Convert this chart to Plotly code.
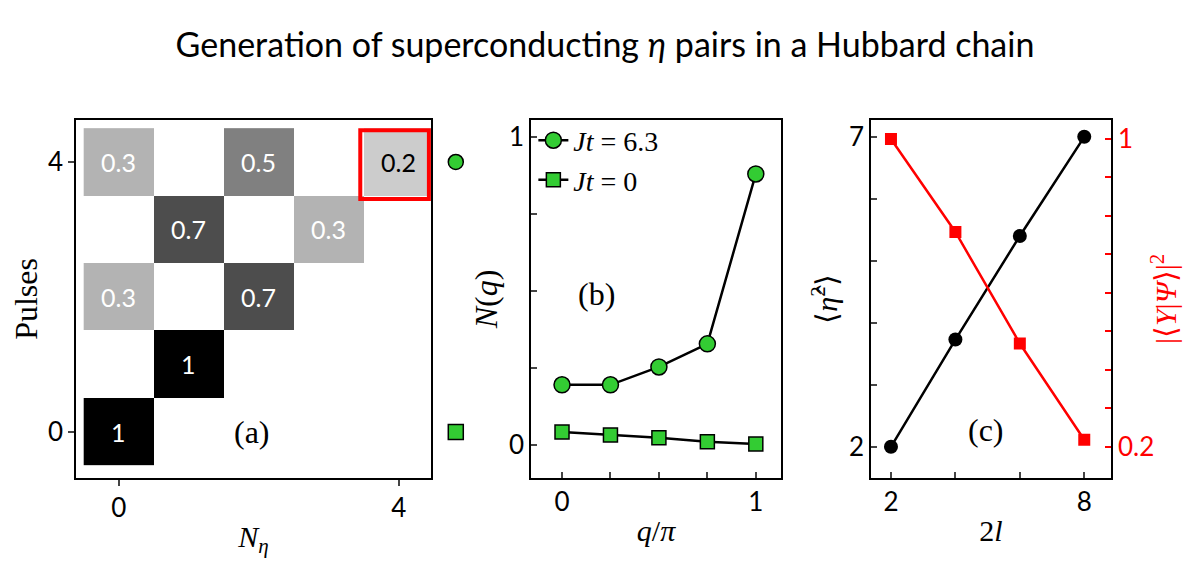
import plotly.graph_objects as go

# panel (a): pulses vs N_eta occupation
n_eta = [0, 1, 2, 3, 4]
pulses = [0, 1, 2, 3, 4]
occ = [
    [1, None, None, None, None],
    [None, 1, None, None, None],
    [0.3, None, 0.7, None, None],
    [None, 0.7, None, 0.3, None],
    [0.3, None, 0.5, None, 0.2],
]
side_x = [4.81, 4.81]
side_pulses = [4, 0]
side_symbols = ['circle', 'square']

# panel (b)
q = [0, 0.25, 0.5, 0.75, 1]
n_q_63 = [0.195, 0.195, 0.253, 0.328, 0.88]
n_q_0 = [0.042, 0.032, 0.023, 0.01, 0.003]

# panel (c)
two_l = [2, 4, 6, 8]
eta2 = [2, 3.73, 5.4, 7]
overlap = [1, 0.758, 0.468, 0.218]

green = '#33cc33'
font = 'Lato, sans-serif'
serif = 'Liberation Serif, serif'
W = 1194.0
dx = -7  # pixel shift


def px(a, b):
    return [(a + dx) / W, (b + dx) / W]


fig = go.Figure()

fig.add_trace(go.Heatmap(
    x=n_eta, y=pulses, z=occ, zmin=0, zmax=1,
    colorscale=[[0, 'white'], [1, 'black']], showscale=False,
    xaxis='x', yaxis='y', hoverongaps=False,
))
# markers to the right of panel (a), on a wider hidden axis
fig.add_trace(go.Scatter(
    x=side_x, y=side_pulses, mode='markers',
    marker=dict(symbol=side_symbols, size=15, color=green,
                line=dict(color='black', width=1.5)),
    showlegend=False, xaxis='x5', yaxis='y5',
))
for i, row in enumerate(occ):
    for j, v in enumerate(row):
        if v is not None:
            fig.add_annotation(
                x=n_eta[j], y=pulses[i], text=str(v), showarrow=False,
                font=dict(family=font, size=25,
                          color='black' if v < 0.25 else 'white'),
                xref='x', yref='y')
fig.add_shape(type='rect', x0=3.45, x1=4.43, y0=3.45, y1=4.47,
              xref='x', yref='y', line=dict(color='red', width=4))

fig.add_trace(go.Scatter(
    x=q, y=n_q_63, mode='lines+markers', name='<i>Jt</i> = 6.3',
    line=dict(color='black', width=2.5),
    marker=dict(symbol='circle', size=16, color=green,
                line=dict(color='black', width=1.5)),
    xaxis='x2', yaxis='y2',
))
fig.add_trace(go.Scatter(
    x=q, y=n_q_0, mode='lines+markers', name='<i>Jt</i> = 0',
    line=dict(color='black', width=2.5),
    marker=dict(symbol='square', size=14, color=green,
                line=dict(color='black', width=1.5)),
    xaxis='x2', yaxis='y2',
))

fig.add_trace(go.Scatter(
    x=two_l, y=eta2, mode='lines+markers', showlegend=False,
    line=dict(color='black', width=2.5),
    marker=dict(symbol='circle', size=14, color='black'),
    xaxis='x3', yaxis='y3',
))
fig.add_trace(go.Scatter(
    x=two_l, y=overlap, mode='lines+markers', showlegend=False,
    line=dict(color='red', width=2.5),
    marker=dict(symbol='square', size=12, color='red'),
    xaxis='x3', yaxis='y4',
))

ax = dict(showline=True, linecolor='black', linewidth=1.5, mirror=True,
          ticks='inside', ticklen=6, tickwidth=1.5, showgrid=False,
          zeroline=False, tickfont=dict(family=font, size=26, color='black'))
ytop, ybot = 0.802, 0.17

fig.update_layout(
    width=1194, height=566, plot_bgcolor='rgba(0,0,0,0)', paper_bgcolor='white',
    margin=dict(l=0, r=0, t=0, b=0),
    font=dict(color='black'),
    title=dict(text='Generation of superconducting <i>η</i> pairs in a Hubbard chain',
               x=0.5, y=0.955, xanchor='center',
               font=dict(family=font, size=34, color='black')),
    xaxis=dict(ax, domain=px(75, 430), range=[-0.61, 4.46], anchor='y',
               tickvals=[0, 4], ticks='outside',
               title=dict(text='<i>N</i><sub><i>η</i></sub>', standoff=4,
                          font=dict(family=serif, size=30))),
    yaxis=dict(ax, domain=[ybot, ytop], range=[-0.68, 4.62], anchor='x',
               tickvals=[0, 4], ticks='outside',
               title=dict(text='Pulses', standoff=4,
                          font=dict(family=serif, size=32))),
    xaxis5=dict(domain=px(75, 480), range=[-0.614, 5.17], visible=False,
                anchor='y5'),
    yaxis5=dict(domain=[ybot, ytop], range=[-0.68, 4.62], visible=False,
                anchor='x5'),
    xaxis2=dict(ax, domain=px(530, 780), range=[-0.16, 1.13], anchor='y2',
                tickvals=[0, 0.25, 0.5, 0.75, 1], ticktext=['0', '', '', '', '1'],
                title=dict(text='<i>q</i>/<i>π</i>', standoff=4,
                           font=dict(family=serif, size=30))),
    yaxis2=dict(ax, domain=[ybot, ytop], range=[-0.107, 1.055], anchor='x2',
                tickvals=[0, 0.25, 0.5, 0.75, 1], ticktext=['0', '', '', '', '1'],
                title=dict(text='<i>N</i>(<i>q</i>)', standoff=2,
                           font=dict(family=serif, size=32))),
    xaxis3=dict(ax, domain=px(870, 1110), range=[1.38, 8.83], anchor='y3',
                tickvals=[2, 4, 6, 8], ticktext=['2', '', '', '8'],
                title=dict(text='2<i>l</i>', standoff=4,
                           font=dict(family=serif, size=30))),
    yaxis3=dict(ax, domain=[ybot, ytop], range=[1.5, 7.27], mirror=False,
                anchor='x3', tickvals=[2, 3, 4, 5, 6, 7],
                ticktext=['2', '', '', '', '', '7'],
                title=dict(text='⟨<i>η̂</i><sup>2</sup>⟩', standoff=2,
                           font=dict(family=serif, size=30))),
    yaxis4=dict(ax, overlaying='y3', side='right', anchor='x3',
                range=[0.119, 1.049], linecolor='black',
                tickvals=[0.2, 0.3, 0.4, 0.5, 0.6, 0.7, 0.8, 0.9, 1],
                ticktext=['0.2', '', '', '', '', '', '', '', '1'],
                tickcolor='red', tickfont=dict(family=font, size=26, color='red'),
                title=dict(text='|⟨<i>Υ</i>|<i>Ψ</i>⟩|<sup>2</sup>', standoff=2,
                           font=dict(family=serif, size=30, color='red'))),
    legend=dict(x=0.44, y=0.81, xanchor='left', yanchor='top',
                bgcolor='rgba(0,0,0,0)', font=dict(family=serif, size=28, color='black'),
                itemwidth=30, tracegroupgap=0),
    annotations=list(fig.layout.annotations) + [
        dict(x=1.9, y=0, xref='x', yref='y', text='(a)', showarrow=False,
             font=dict(family=serif, size=32)),
        dict(x=0.18, y=0.49, xref='x2', yref='y2', text='(b)', showarrow=False,
             font=dict(family=serif, size=32)),
        dict(x=4.95, y=2.27, xref='x3', yref='y3', text='(c)', showarrow=False,
             font=dict(family=serif, size=32)),
    ],
)

fig.write_html('out.html')
